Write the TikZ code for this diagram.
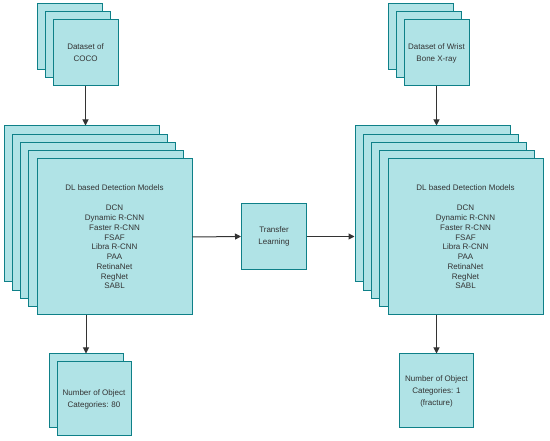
\documentclass[tikz,border=0pt]{standalone}
\usepackage{fontspec}
\setmainfont{Liberation Sans}
\usetikzlibrary{arrows.meta}
\definecolor{boxfill}{HTML}{B0E3E6}
\definecolor{boxline}{HTML}{0E8088}
\definecolor{txt}{HTML}{333333}

\begin{document}
\begin{tikzpicture}[x=0.75pt,y=-0.75pt,
  card/.style={draw=boxline,fill=boxfill,line width=0.75pt,inner sep=0pt,
    align=center,text=txt,font=\fontsize{6}{9}\selectfont},
  data/.style={card,minimum width=48.75pt,minimum height=49.5pt},
  model/.style={card,minimum width=116.25pt,minimum height=117pt,
    font=\fontsize{6}{7.3}\selectfont},
  count/.style={card,minimum width=55.5pt,minimum height=55.5pt},
  link/.style={draw=black!80,line width=0.75pt,-{Triangle[length=4.5pt,width=4.5pt]}}]
  \useasboundingbox (0,0) rectangle (550,441);

  % datasets
  \foreach \i in {1,2}
    \node[data] (coco\i) at ({69.5+8*(\i-1)},{37+8*(\i-1)}) {};
  \node[data] (coco3) at (85.5,53) {Dataset of\\COCO};
  \foreach \i in {1,2}
    \node[data] (wrist\i) at ({420.5+8*(\i-1)},{37+8*(\i-1)}) {};
  \node[data] (wrist3) at (436.5,53) {Dataset of Wrist\\Bone X-ray};

  % detection models
  \foreach \i in {1,...,4}
    \node[model] (dlA\i) at ({81.5+8.25*(\i-1)},{204+8.25*(\i-1)}) {};
  \node[model] (dlA5) at (114.5,237) {DL based Detection Models\\[7.7pt]
    DCN\\Dynamic R-CNN\\Faster R-CNN\\FSAF\\Libra R-CNN\\PAA\\RetinaNet\\RegNet\\SABL};
  \foreach \i in {1,...,4}
    \node[model] (dlB\i) at ({432.5+8.25*(\i-1)},{204+8.25*(\i-1)}) {};
  \node[model] (dlB5) at (465.5,237) {DL based Detection Models\\[7.7pt]
    DCN\\Dynamic R-CNN\\Faster R-CNN\\FSAF\\Libra R-CNN\\PAA\\RetinaNet\\RegNet\\SABL};

  \node[data] (tl) at (274,236.5) {Transfer\\Learning};

  % categories
  \node[count] (cntA1) at (86,391) {};
  \node[count] (cntA2) at (94,399) {Number of Object\\Categories: 80};
  \node[count] (cntB) at (436.5,391) {Number of Object\\Categories: 1\\(fracture)};

  % arrows
  \draw[link] (coco3.south) -- (coco3.south |- dlA1.north);
  \draw[link] (wrist3.south) -- (wrist3.south |- dlB1.north);
  \draw[link] (dlA5.east) -- (tl.west);
  \draw[link] (tl.east) -- (tl.east -| dlB1.west);
  \draw[link] (cntA1.north |- dlA5.south) -- (cntA1.north);
  \draw[link] (cntB.north |- dlB5.south) -- (cntB.north);
\end{tikzpicture}
\end{document}
